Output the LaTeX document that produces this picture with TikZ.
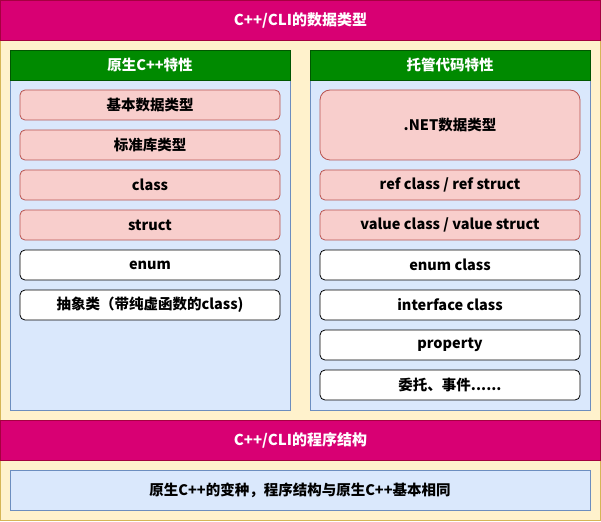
\documentclass[tikz,border=0pt]{standalone}
\usepackage{fontspec}
\setmainfont{Noto Sans CJK SC}
\definecolor{magfill}{HTML}{D80073}
\definecolor{magline}{HTML}{A50040}
\definecolor{yelfill}{HTML}{FFF2CC}
\definecolor{yelline}{HTML}{D6B656}
\definecolor{grnfill}{HTML}{008A00}
\definecolor{grnline}{HTML}{005700}
\definecolor{blufill}{HTML}{DAE8FC}
\definecolor{bluline}{HTML}{6C8EBF}
\definecolor{redfill}{HTML}{F8CECC}
\definecolor{redline}{HTML}{B85450}
\tikzset{
  hdr/.style={draw=magline,fill=magfill,line width=0.8pt},
  bg/.style={draw=yelline,fill=yelfill,line width=0.8pt},
  colhdr/.style={draw=grnline,fill=grnfill,line width=0.8pt},
  body/.style={draw=bluline,fill=blufill,line width=0.8pt},
  reditem/.style={draw=redline,fill=redfill,rounded corners=5pt,line width=0.8pt},
  whtitem/.style={draw=black,fill=white,rounded corners=5pt,line width=0.8pt},
  whitetxt/.style={text=white,font=\fontsize{15}{17}\selectfont\bfseries},
  colhdrtxt/.style={text=white,font=\fontsize{14.5}{17}\selectfont\bfseries},
  itemtxt/.style={text=black,font=\fontsize{14.5}{16}\selectfont\bfseries},
}
\begin{document}
\begin{tikzpicture}[x=1pt,y=-1pt]
\useasboundingbox (0,0) rectangle (601,521);
% backgrounds
\draw[bg] (0.5,40) rectangle (600.5,420);
\draw[bg] (0.5,460) rectangle (600.5,520.5);
\draw[hdr] (0.5,0.5) rectangle (600.5,40);
\node[whitetxt] (t1) at (300.5,20) {C++/CLI的数据类型};
\draw[hdr] (0.5,420) rectangle (600.5,460);
\node[whitetxt] (t2) at (300.5,440) {C++/CLI的程序结构};
% left column
\draw[body] (10,80) rectangle (290,410);
\draw[colhdr] (10,50) rectangle (290,80);
\node[colhdrtxt] (lh) at (150,65) {原生C++特性};
\draw[reditem] (20,90) rectangle (280,120);
\node[itemtxt] (l1) at (150,105) {基本数据类型};
\draw[reditem] (20,130) rectangle (280,160);
\node[itemtxt] (l2) at (150,145) {标准库类型};
\draw[reditem] (20,170) rectangle (280,200);
\node[itemtxt] (l3) at (150,185) {class};
\draw[reditem] (20,210) rectangle (280,240);
\node[itemtxt] (l4) at (150,225) {struct};
\draw[whtitem] (20,250) rectangle (280,280);
\node[itemtxt] (l5) at (150,265) {enum};
\draw[whtitem] (20,290) rectangle (280,320);
\node[itemtxt] (l6) at (150,305) {抽象类（带纯虚函数的class)};
% right column
\draw[body] (310,80) rectangle (590,410);
\draw[colhdr] (310,50) rectangle (590,80);
\node[colhdrtxt] (rh) at (450,65) {托管代码特性};
\draw[reditem,rounded corners=10pt] (320,90) rectangle (580,160);
\node[itemtxt] (r1) at (450,125) {.NET数据类型};
\draw[reditem] (320,170) rectangle (580,200);
\node[itemtxt] (r2) at (450,185) {ref class / ref struct};
\draw[reditem] (320,210) rectangle (580,240);
\node[itemtxt] (r3) at (450,225) {value class / value struct};
\draw[whtitem] (320,250) rectangle (580,280);
\node[itemtxt] (r4) at (450,265) {enum class};
\draw[whtitem] (320,290) rectangle (580,320);
\node[itemtxt] (r5) at (450,305) {interface class};
\draw[whtitem] (320,330) rectangle (580,360);
\node[itemtxt] (r6) at (450,345) {property};
\draw[whtitem] (320,370) rectangle (580,400);
\node[itemtxt] (r7) at (450,385) {委托、事件......};
% bottom
\draw[body] (10,470) rectangle (590,510);
\node[itemtxt] (b1) at (300,490) {原生C++的变种，程序结构与原生C++基本相同};
\end{tikzpicture}
\end{document}
